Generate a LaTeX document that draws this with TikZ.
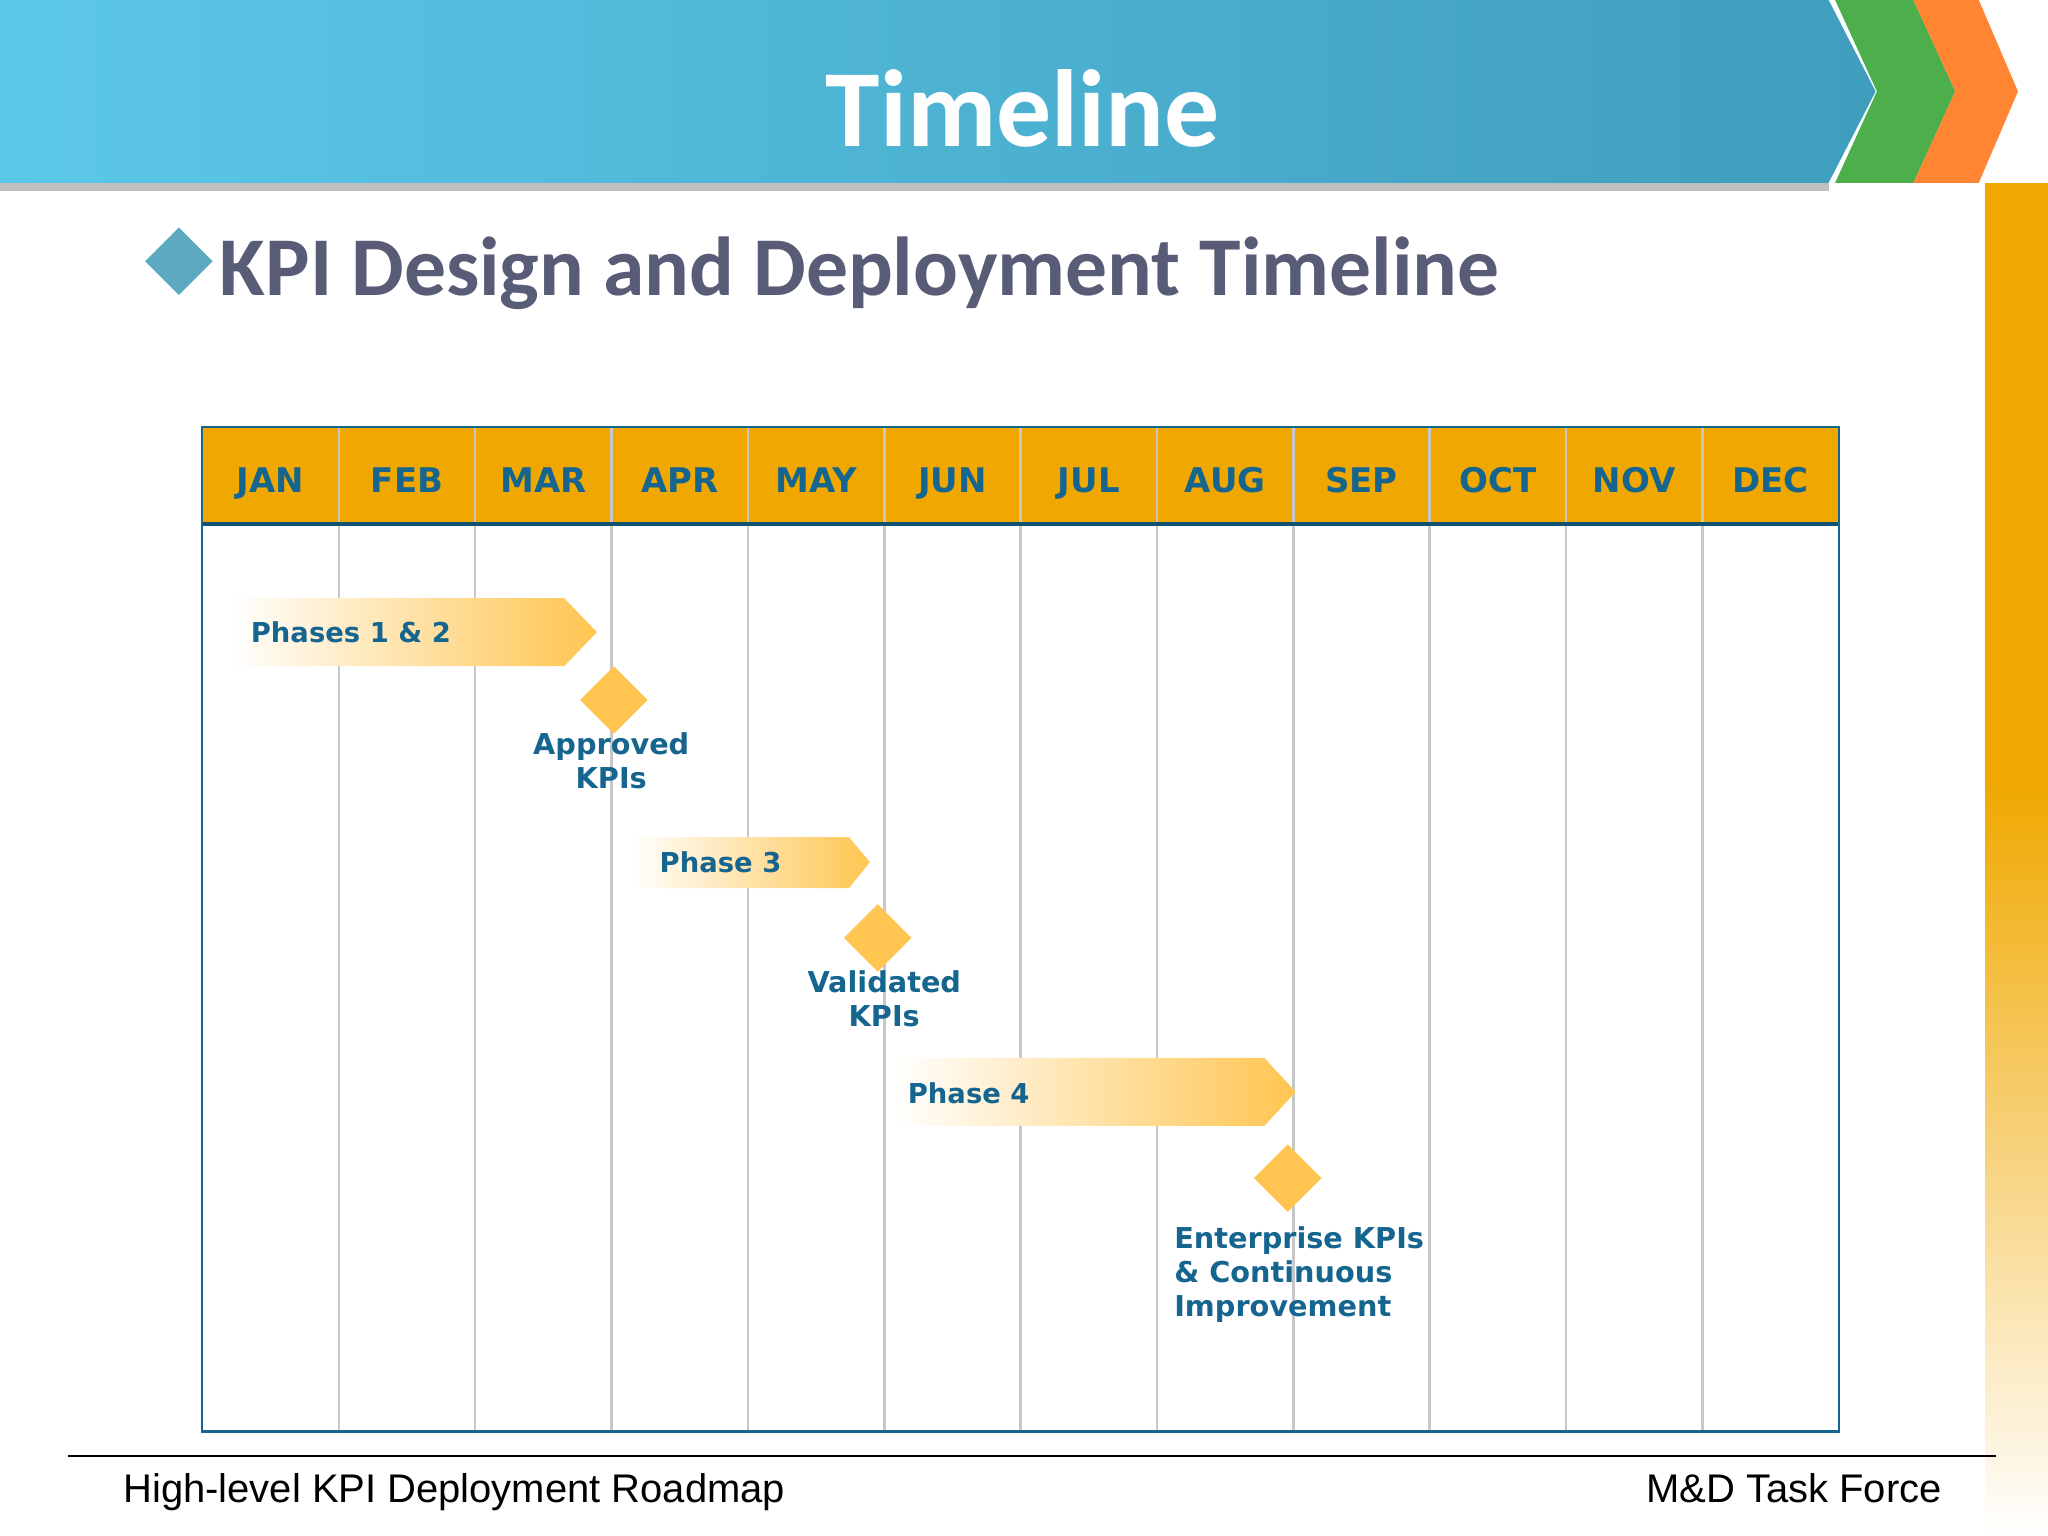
\documentclass[tikz,border=0pt]{standalone}
\usepackage{fontspec}
\setmainfont{Liberation Sans}
\newfontfamily\carl{Carlito}
\newfontfamily\dvs{DejaVu Sans}
\usetikzlibrary{shapes.geometric}
\definecolor{bannerL}{HTML}{5CC8E8}
\definecolor{bannerR}{HTML}{3F9DBD}
\definecolor{gold}{HTML}{F0A800}
\definecolor{lbl}{HTML}{15658F}
\definecolor{barY}{HTML}{FFC550}
\definecolor{subt}{HTML}{585C76}
\tikzset{
  month/.style={font=\dvs\bfseries\fontsize{13}{15}\selectfont, text=lbl, anchor=base},
  barlbl/.style={font=\dvs\bfseries\fontsize{10.5}{13}\selectfont, text=lbl, anchor=west},
  mslbl/.style={font=\dvs\bfseries\fontsize{11}{13}\selectfont, text=lbl, align=center, anchor=north},
  msd/.style={diamond, fill=barY, minimum width=26pt, minimum height=26pt, inner sep=0pt},
  bar/.style={left color=white, right color=barY, draw=none},
  grid/.style={draw=black!22, line width=1pt}
}
\begin{document}
\begin{tikzpicture}[x=0.5pt,y=-0.5pt]
\useasboundingbox (0,0) rectangle (1568,1176);
\fill[white] (0,0) rectangle (1568,1176);
% right bar
\fill[gold] (1520,140) rectangle (1568,600);
\shade[top color=gold, bottom color=white] (1520,599) rectangle (1568,1176);
% banner
\shade[left color=bannerL, right color=bannerR] (0,0) -- (1400,0) -- (1436,70) -- (1400,140) -- (0,140) -- cycle;
\fill[black!25] (0,140) rectangle (1400,146);
\fill[green!55!black!70!white] (1405,0) -- (1465,0) -- (1497,70) -- (1465,140) -- (1405,140) -- (1437,70) -- cycle;
\fill[orange!80!red!80!white] (1465,0) -- (1515,0) -- (1545,70) -- (1515,140) -- (1465,140) -- (1497,70) -- cycle;
\node[font=\carl\bfseries\fontsize{42}{48}\selectfont, text=white] (title) at (783,83) {Timeline};
% subtitle
\node[diamond, fill=bannerL!80!black!90, minimum width=26pt, minimum height=26pt, inner sep=0pt] (bul) at (137,200) {};
\node[font=\carl\bfseries\fontsize{32}{38}\selectfont, text=subt, anchor=base west, inner sep=0pt] (sub) at (168,226) {KPI Design and Deployment Timeline};
% table
\fill[gold] (155,327) rectangle (1408,401);
\foreach \i in {1,...,11} { \draw[grid] ({155+\i*104.4},327) -- ({155+\i*104.4},1096); }
\draw[lbl!80!black, line width=1.5pt] (155,401) -- (1408,401);
\draw[lbl, line width=0.8pt] (155,327) rectangle (1408,1096);
\foreach \m [count=\i from 0] in {JAN,FEB,MAR,APR,MAY,JUN,JUL,AUG,SEP,OCT,NOV,DEC} {
  \node[month] (m\i) at ({155+52.2+\i*104.4},377) {\m};
}
% bars
\shade[bar] (175,458) -- (432,458) -- (457,484) -- (432,510) -- (175,510) -- cycle;
\node[barlbl] (b1) at (185,484) {Phases 1 \& 2};
\shade[bar] (483,641) -- (650,641) -- (666,660) -- (650,680) -- (483,680) -- cycle;
\node[barlbl] (b2) at (498,660) {Phase 3};
\shade[bar] (685,810) -- (968,810) -- (992,836) -- (968,862) -- (685,862) -- cycle;
\node[barlbl] (b3) at (688,837) {Phase 4};
% milestones
\node[msd] (d1) at (470,536) {};
\node[mslbl] (l1) at (468,554) {Approved\\KPIs};
\node[msd] (d2) at (672,718) {};
\node[mslbl] (l2) at (677,736) {Validated\\KPIs};
\node[msd] (d3) at (986,902) {};
\node[mslbl, align=left, anchor=north west] (l3) at (892,932) {Enterprise KPIs\\\& Continuous\\Improvement};
% footer
\draw[black, line width=0.8pt] (52,1115) -- (1528,1115);
\node[font=\fontsize{15.3}{18}\selectfont, anchor=base west, inner sep=0pt] (f1) at (94,1150) {High-level KPI Deployment Roadmap};
\node[font=\fontsize{15.3}{18}\selectfont, anchor=base east, inner sep=0pt] (f2) at (1487,1150) {M\&D Task Force};
\end{tikzpicture}
\end{document}
